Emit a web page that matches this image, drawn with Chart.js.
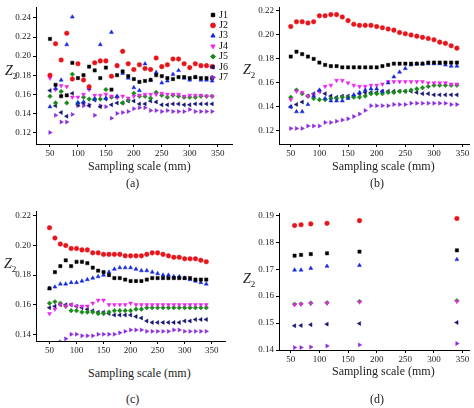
<!DOCTYPE html>
<html><head><meta charset="utf-8">
<script src="https://cdn.jsdelivr.net/npm/chart.js@4"></script>
<style>
  body { margin:0; width:474px; height:408px; background:#fff; position:relative; overflow:hidden; font-family:"Liberation Serif","Times New Roman",Times,serif; }
  canvas { position:absolute; }
  .lab { position:absolute; font-size:12px; color:#222; white-space:nowrap; }
  .z { position:absolute; font-size:14px; font-style:italic; color:#222; }
  .z sub { font-style:normal; font-size:9px; }
</style></head>
<body>
<canvas id="ca" style="left:2px;top:0;width:246px;height:160px"></canvas>
<canvas id="cb" style="left:245px;top:0;width:229px;height:160px"></canvas>
<canvas id="cc" style="left:2px;top:204px;width:228px;height:153px"></canvas>
<canvas id="cd" style="left:245px;top:206px;width:229px;height:160px"></canvas>
<div class="z" style="left:5px;top:63px">Z<sub>2</sub></div>
<div class="z" style="left:243px;top:62px">Z<sub>2</sub></div>
<div class="z" style="left:4px;top:256px">Z<sub>2</sub></div>
<div class="z" style="left:243px;top:271px">Z<sub>2</sub></div>
<div class="lab" style="left:88px;top:159px">Sampling scale (mm)</div>
<div class="lab" style="left:126px;top:176px">(a)</div>
<div class="lab" style="left:332px;top:159px">Sampling scale (mm)</div>
<div class="lab" style="left:370px;top:176px">(b)</div>
<div class="lab" style="left:88px;top:366px">Sampling scale (mm)</div>
<div class="lab" style="left:126px;top:392px">(c)</div>
<div class="lab" style="left:332px;top:364px">Sampling scale (mm)</div>
<div class="lab" style="left:370px;top:392px">(d)</div>
<script>
// ── data ──
const xs = [50,60,70,80,90,100,110,120,130,140,150,160,170,180,190,200,210,220,230,240,250,260,270,280,290,300,310,320,330,340];
const xsD = [56.7, 68, 85, 113.3, 170, 340];
const names = ['J1','J2','J3','J4','J5','J6','J7'];

const aJ1 = [0.218,0.170,0.158,0.159,0.193,0.177,0.180,0.189,0.185,0.177,0.188,0.165,0.180,0.184,0.179,0.176,0.173,0.174,0.175,0.180,0.179,0.177,0.176,0.178,0.178,0.177,0.178,0.177,0.177,0.177];
const aJ2 = [0.180,0.213,0.196,0.224,0.176,0.192,0.175,0.168,0.193,0.195,0.195,0.179,0.190,0.205,0.192,0.186,0.191,0.187,0.186,0.198,0.189,0.191,0.197,0.197,0.192,0.188,0.192,0.190,0.190,0.189];
const aJ3 = [0.147,0.166,0.175,0.212,0.241,0.151,0.152,0.166,0.155,0.212,0.156,0.225,0.158,0.182,0.177,0.167,0.164,0.192,0.175,0.183,0.172,0.174,0.181,0.185,0.177,0.175,0.178,0.175,0.175,0.174];
const aJ4 = [0.177,0.165,0.169,0.168,0.157,0.157,0.160,0.165,0.159,0.159,0.160,0.158,0.157,0.158,0.156,0.158,0.159,0.160,0.160,0.160,0.161,0.160,0.160,0.160,0.158,0.159,0.159,0.159,0.158,0.158];
const aJ5 = [0.158,0.151,0.163,0.151,0.181,0.151,0.157,0.155,0.155,0.155,0.165,0.157,0.157,0.151,0.154,0.161,0.158,0.158,0.156,0.162,0.159,0.157,0.159,0.158,0.157,0.157,0.157,0.158,0.158,0.158];
const aJ6 = [0.164,0.148,0.141,0.137,0.161,0.149,0.151,0.148,0.154,0.147,0.155,0.149,0.151,0.151,0.153,0.153,0.150,0.150,0.153,0.152,0.149,0.149,0.150,0.150,0.149,0.149,0.150,0.150,0.150,0.150];
const aJ7 = [0.120,0.138,0.131,0.131,0.139,0.148,0.148,0.149,0.138,0.148,0.147,0.135,0.140,0.141,0.142,0.145,0.146,0.146,0.143,0.143,0.142,0.143,0.142,0.142,0.142,0.144,0.142,0.142,0.142,0.142];

const bJ1 = [0.182,0.186,0.184,0.182,0.180,0.177,0.175,0.174,0.174,0.173,0.173,0.173,0.173,0.173,0.173,0.173,0.174,0.175,0.176,0.176,0.176,0.176,0.176,0.176,0.177,0.177,0.177,0.177,0.177,0.177];
const bJ2 = [0.207,0.211,0.211,0.210,0.211,0.216,0.216,0.217,0.217,0.215,0.212,0.209,0.208,0.208,0.208,0.207,0.206,0.205,0.204,0.202,0.201,0.200,0.199,0.198,0.197,0.196,0.194,0.193,0.191,0.189];
const bJ3 = [0.140,0.136,0.136,0.142,0.149,0.154,0.147,0.145,0.145,0.145,0.147,0.150,0.152,0.154,0.155,0.155,0.153,0.160,0.165,0.169,0.172,0.175,0.176,0.176,0.176,0.176,0.176,0.175,0.174,0.174];
const bJ4 = [0.146,0.153,0.152,0.149,0.150,0.153,0.157,0.158,0.162,0.162,0.160,0.158,0.157,0.157,0.158,0.158,0.159,0.161,0.161,0.161,0.161,0.161,0.161,0.161,0.160,0.160,0.160,0.160,0.159,0.159];
const bJ5 = [0.148,0.154,0.151,0.149,0.147,0.146,0.146,0.147,0.147,0.148,0.148,0.148,0.148,0.149,0.151,0.151,0.151,0.152,0.152,0.153,0.153,0.154,0.155,0.156,0.157,0.158,0.158,0.158,0.158,0.158];
const bJ6 = [0.140,0.142,0.144,0.149,0.151,0.153,0.151,0.149,0.148,0.149,0.149,0.149,0.151,0.152,0.152,0.152,0.153,0.153,0.153,0.153,0.153,0.153,0.152,0.151,0.151,0.150,0.150,0.150,0.150,0.150];
const bJ7 = [0.122,0.122,0.122,0.124,0.124,0.124,0.127,0.127,0.128,0.129,0.130,0.132,0.134,0.137,0.141,0.141,0.141,0.141,0.142,0.142,0.142,0.143,0.143,0.143,0.143,0.143,0.143,0.143,0.142,0.142];

const cJ1 = [0.171,0.182,0.186,0.190,0.186,0.189,0.189,0.188,0.185,0.183,0.182,0.180,0.178,0.178,0.177,0.176,0.176,0.176,0.177,0.178,0.178,0.178,0.178,0.178,0.178,0.178,0.178,0.177,0.177,0.177];
const cJ2 = [0.212,0.205,0.201,0.200,0.198,0.198,0.197,0.197,0.195,0.195,0.194,0.194,0.194,0.194,0.193,0.193,0.193,0.193,0.194,0.195,0.195,0.194,0.193,0.192,0.192,0.191,0.191,0.191,0.190,0.189];
const cJ3 = [0.171,0.172,0.174,0.174,0.175,0.175,0.176,0.177,0.178,0.179,0.180,0.182,0.184,0.185,0.185,0.185,0.184,0.183,0.183,0.182,0.181,0.180,0.180,0.179,0.179,0.178,0.177,0.176,0.175,0.174];
const cJ4 = [0.154,0.157,0.160,0.159,0.160,0.159,0.159,0.159,0.161,0.163,0.163,0.160,0.160,0.160,0.160,0.161,0.160,0.160,0.160,0.160,0.160,0.160,0.160,0.160,0.160,0.160,0.160,0.160,0.160,0.160];
const cJ5 = [0.161,0.162,0.161,0.159,0.156,0.156,0.155,0.155,0.155,0.154,0.154,0.155,0.156,0.156,0.156,0.156,0.157,0.157,0.158,0.158,0.158,0.158,0.158,0.158,0.158,0.158,0.158,0.158,0.158,0.158];
const cJ6 = [0.158,0.159,0.160,0.160,0.160,0.159,0.158,0.157,0.156,0.155,0.155,0.154,0.153,0.153,0.153,0.153,0.152,0.151,0.149,0.148,0.148,0.148,0.148,0.148,0.148,0.149,0.149,0.150,0.150,0.150];
const cJ7 = [0.134,0.134,0.135,0.137,0.140,0.140,0.139,0.139,0.139,0.140,0.140,0.140,0.140,0.141,0.142,0.143,0.143,0.143,0.142,0.142,0.142,0.142,0.142,0.143,0.143,0.142,0.142,0.142,0.142,0.142];

const dJ1 = [0.1750,0.1753,0.1756,0.1759,0.1765,0.1770];
const dJ2 = [0.1862,0.1865,0.1868,0.1870,0.1880,0.1888];
const dJ3 = [0.1697,0.1697,0.1703,0.1711,0.1714,0.1736];
const dJ4 = [0.1568,0.1570,0.1573,0.1574,0.1578,0.1580];
const dJ5 = [0.1570,0.1571,0.1574,0.1575,0.1580,0.1583];
const dJ6 = [0.1490,0.1491,0.1494,0.1496,0.1498,0.1502];
const dJ7 = [0.1409,0.1409,0.1411,0.1415,0.1419,0.1424];

const xTicks = [50,100,150,200,250,300,350];
const yTicksA = [0.12,0.14,0.16,0.18,0.20,0.22,0.24];
const yTicksB = [0.12,0.14,0.16,0.18,0.20,0.22];
const yTicksC = [0.14,0.16,0.18,0.20,0.22];
const yTicksD = [0.14,0.15,0.16,0.17,0.18,0.19];

const FONT = '"Liberation Serif", "Times New Roman", Times, serif';

// marker look per series
const styles = [
  { c:'#000000', s:'rect', r:0 },
  { c:'#e8141c', s:'circle', r:0 },
  { c:'#1428e0', s:'triangle', r:0 },
  { c:'#ee22ee', s:'triangle', r:180 },
  { c:'#1a8a1a', s:'rectRot', r:0 },
  { c:'#141470', s:'triangle', r:-90 },
  { c:'#8a2be2', s:'triangle', r:90 },
];

function sets(x, series) {
  return series.map((ys, i) => ({
    label: names[i],
    data: ys.map((y, k) => ({ x: x[k], y })),
    pointStyle: styles[i].s, pointRotation: styles[i].r,
    pointRadius: 2.3, pointBorderWidth: 0.5,
    backgroundColor: styles[i].c, borderColor: styles[i].c,
  }));
}

const legendPlugin = {
  id: 'jleg',
  afterDraw(chart) {
    const ctx = chart.ctx;
    ctx.save();
    ctx.font = '10px ' + FONT;
    ctx.textBaseline = 'middle';
    styles.forEach((st, i) => {
      const y = 15 + i * 10.4;
      ctx.fillStyle = st.c; ctx.strokeStyle = st.c;
      Chart.helpers.drawPoint(ctx, { pointStyle: st.s, radius: 2.4, rotation: st.r, borderWidth: 0.5 }, 211, y);
      ctx.fillStyle = '#111';
      ctx.fillText(names[i], 217, y);
    });
    ctx.restore();
  }
};

function make(id, datasets, xr, yr, yt, dec, padR, plugins) {
  const tickFont = { family: FONT, size: 9 };
  new Chart(document.getElementById(id), {
    type: 'scatter',
    data: { datasets },
    plugins: plugins || [],
    options: {
      responsive: false, animation: false,
      layout: { padding: { left: 0, right: padR, top: 0, bottom: 0 } },
      plugins: { legend: { display: false }, tooltip: { enabled: false } },
      scales: {
        x: {
          min: xr[0], max: xr[1],
          afterBuildTicks: s => { s.ticks = xTicks.map(v => ({ value: v })); },
          afterFit: s => { s.height = 16; },
          ticks: { font: tickFont, color: '#222', padding: 1, maxRotation: 0 },
          grid: { drawOnChartArea: false, tickLength: 3, color: '#000' },
          border: { color: '#000', width: 1 },
        },
        y: {
          min: yr[0], max: yr[1],
          afterBuildTicks: s => { s.ticks = yt.map(v => ({ value: v })); },
          afterFit: s => { s.width = 34; },
          ticks: { font: tickFont, color: '#222', padding: 2, callback: v => v.toFixed(dec) },
          grid: { drawOnChartArea: false, tickLength: 3, color: '#000' },
          border: { color: '#000', width: 1 },
        }
      }
    }
  });
}

function size(id) {
  const c = document.getElementById(id);
  c.width = parseInt(c.style.width); c.height = parseInt(c.style.height);
}
['ca','cb','cc','cd'].forEach(size);

make('ca', sets(xs, [aJ1,aJ2,aJ3,aJ4,aJ5,aJ6,aJ7]), [25, 375.6], [0.108, 0.251], yTicksA, 2, 16, [legendPlugin]);
make('cb', sets(xs, [bJ1,bJ2,bJ3,bJ4,bJ5,bJ6,bJ7]), [29.5, 362], [0.109, 0.223], yTicksB, 2, 0);
make('cc', sets(xs, [cJ1,cJ2,cJ3,cJ4,cJ5,cJ6,cJ7]), [25, 375.6], [0.1355, 0.223], yTicksC, 2, 0);
make('cd', sets(xsD, [dJ1,dJ2,dJ3,dJ4,dJ5,dJ6,dJ7]), [29.5, 362], [0.14, 0.1907], yTicksD, 2, 0);
</script>
</body></html>
